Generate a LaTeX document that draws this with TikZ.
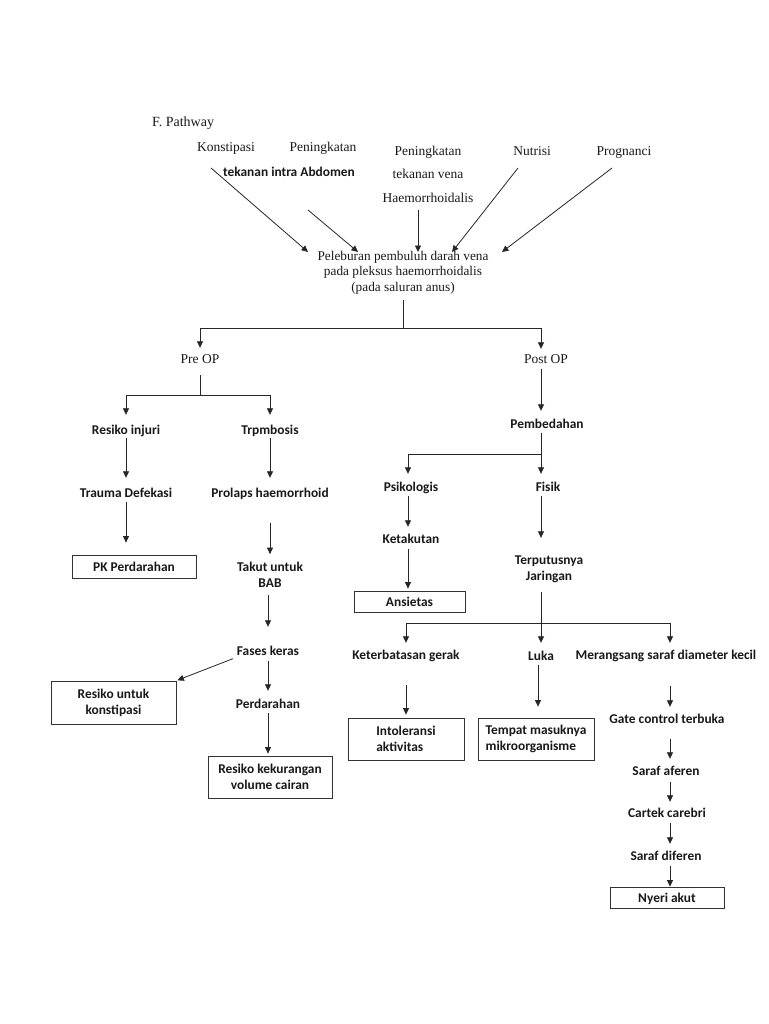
\documentclass[tikz,border=0pt]{standalone}
\usepackage{fontspec}
\setmainfont{Liberation Serif}
\newfontfamily\cbr{Carlito}
\usetikzlibrary{arrows.meta}
\begin{document}
\begin{tikzpicture}[x=1pt,y=-1pt]
\tikzset{
 sr/.style={font=\fontsize{13.5}{15.5}\selectfont, inner sep=0pt, text height=10.5pt, text depth=1.5pt, align=center, text=black!90},
 srm/.style={font=\fontsize{13.3}{15.5}\selectfont, inner sep=0pt, align=center, text=black!90},
 cb/.style={font=\cbr\bfseries\fontsize{13.4}{16}\selectfont, inner sep=0pt, text height=10.5pt, text depth=1.5pt, align=center, text=black!90},
 cbm/.style={font=\cbr\bfseries\fontsize{13.4}{16}\selectfont, inner sep=0pt, align=center, text=black!90},
 bx/.style={cb, draw=black!80, line width=0.8pt},
 bxm/.style={cbm, draw=black!80, line width=0.8pt},
 arr/.style={draw=black!85, line width=0.8pt, -{Triangle[length=6.5pt,width=6pt]}},
 ln/.style={draw=black!85, line width=0.8pt},
}
\useasboundingbox[fill=white] (0,0) rectangle (768,1024);

% top part
\node[sr, anchor=west, font=\fontsize{14}{16}\selectfont] (title) at (152,122) {F. Pathway};
\node[sr] (konst) at (226,147) {Konstipasi};
\node[sr] (pen1) at (323,147) {Peningkatan};
\node[cb] (tia) at (289,172) {tekanan intra Abdomen};
\node[sr] (pen2) at (428,151) {Peningkatan};
\node[sr] (tv) at (428,174) {tekanan vena};
\node[sr] (haem) at (428,198) {Haemorrhoidalis};
\node[sr] (nutr) at (532,151) {Nutrisi};
\node[sr] (prog) at (624,151) {Prognanci};
\node[srm] (main) at (403,272.5) {Peleburan pembuluh darah vena\\pada pleksus haemorrhoidalis\\(pada saluran anus)};

\coordinate (s1) at (211,168); \coordinate (t1) at (308,252);
\coordinate (s2) at (308,210); \coordinate (t2) at (358,252);
\coordinate (s3) at (418,210); \coordinate (t3) at (418,252);
\coordinate (s4) at (518,168); \coordinate (t4) at (452,252);
\coordinate (s5) at (612,168); \coordinate (t5) at (502,252);
\foreach \i in {1,...,5} { \draw[arr] (s\i) -- (t\i); }

% columns and junctions
\coordinate (j1) at (403,328);
\coordinate (j1L) at (200,328);
\coordinate (j1R) at (541,328);
\coordinate (j2) at (200,395);
\coordinate (j2L) at (126,395);
\coordinate (j2R) at (270,395);
\coordinate (j3) at (541,454);
\coordinate (j3L) at (408,454);
\coordinate (j4) at (541,623);
\coordinate (j4L) at (406,623);
\coordinate (j4R) at (670,623);
\coordinate (cR) at (541,0);
\coordinate (cP) at (408,0);
\coordinate (cL) at (538,0);
\coordinate (cM) at (670,0);
\coordinate (cB) at (126,0);

% left branch
\node[sr] (preop) at (200,359) {Pre OP};
\node[cb] (resiko) at (126,430) {Resiko injuri};
\node[cb] (trp) at (270,430) {Trpmbosis};
\node[cb] (trauma) at (126,493) {Trauma Defekasi};
\node[cb] (prolaps) at (270,493) {Prolaps haemorrhoid};
\node[bx, minimum width=124pt, minimum height=23pt] (pk) at (134,566.5) {PK Perdarahan};
\node[cbm] (takut) at (270,575) {Takut untuk\\BAB};
\node[cb] (fases) at (268,651) {Fases keras};
\node[bxm, minimum width=125pt, minimum height=43pt] (rk) at (113.5,702.5) {Resiko untuk\\konstipasi};
\node[cb] (perd) at (268,704) {Perdarahan};
\node[bxm, minimum width=124pt, minimum height=42pt] (rkv) at (270,777) {Resiko kekurangan\\volume cairan};

% right branch
\node[sr] (postop) at (546,359) {Post OP};
\node[cb] (pemb) at (547,424) {Pembedahan};
\node[cb] (psik) at (411,487) {Psikologis};
\node[cb] (fisik) at (548,487) {Fisik};
\node[cb] (ketak) at (411,539) {Ketakutan};
\node[bx, minimum width=111pt, minimum height=21pt] (ans) at (409.5,601.5) {Ansietas};
\node[cbm] (terp) at (549,569.5) {Terputusnya\\Jaringan};
\node[cb] (keter) at (406,655) {Keterbatasan gerak};
\node[cb] (luka) at (541,656) {Luka};
\node[cb] (mer) at (666,655) {Merangsang saraf diameter kecil};
\node[bxm, align=left, minimum width=116pt, minimum height=42pt] (into) at (406,739) {Intoleransi\\aktivitas};
\node[bxm, align=left, minimum width=116pt, minimum height=42pt] (tempat) at (536,739) {Tempat masuknya\\mikroorganisme};
\node[cb] (gate) at (667,719) {Gate control terbuka};
\node[cb] (aferen) at (666,771) {Saraf aferen};
\node[cb] (cartek) at (667,813) {Cartek carebri};
\node[cb] (diferen) at (666,856) {Saraf diferen};
\node[bx, minimum width=114pt, minimum height=21pt] (nyeri) at (667,897.5) {Nyeri akut};

% connectors top split
\draw[ln, shorten <=6pt] (main.south) -- (j1);
\draw[ln] (j1L) -- (j1R);
\draw[arr, shorten >=5pt] (j1L) -- (preop.north);
\draw[arr, shorten >=4pt] (j1R) -- (postop.north -| j1R);

% left connectors
\draw[ln, shorten <=10pt] (preop.south) -- (j2);
\draw[ln] (j2L) -- (j2R);
\draw[arr, shorten >=9pt] (j2L) -- (resiko.north);
\draw[arr, shorten >=9pt] (j2R) -- (trp.north);
\draw[arr, shorten <=2pt, shorten >=9pt] (resiko.south) -- (trauma.north);
\draw[arr, shorten <=2pt, shorten >=9pt] (trp.south) -- (prolaps.north);
\draw[arr, shorten <=3pt, shorten >=12pt] (trauma.south) -- (pk.north -| cB);
\draw[arr, shorten <=24pt, shorten >=8pt] (prolaps.south) -- (takut.north);
\draw[arr, shorten <=7pt, shorten >=18pt] (takut.south -| fases.north) -- (fases.north);
\draw[arr, shorten <=4pt, shorten >=1pt] (fases.south west) -- (rk.north east);
\draw[arr, shorten <=4pt, shorten >=7pt] (fases.south) -- (perd.north);
\draw[arr, shorten <=3pt, shorten >=2pt] (perd.south) -- (rkv.north -| perd.south);

% right connectors
\draw[arr, shorten <=4pt, shorten >=7pt] (postop.south -| cR) -- (pemb.north -| cR);
\draw[ln, shorten <=3pt] (pemb.south -| cR) -- (j3);
\draw[ln] (j3L) -- (j3);
\draw[arr, shorten >=7pt] (j3L) -- (psik.north -| j3L);
\draw[arr, shorten >=7pt] (j3) -- (fisik.north -| j3);
\draw[arr, shorten <=3pt, shorten >=6pt] (psik.south -| cP) -- (ketak.north -| cP);
\draw[arr, shorten <=4pt, shorten >=2pt] (ketak.south -| cP) -- (ans.north -| cP);
\draw[arr, shorten <=3pt, shorten >=18pt] (fisik.south -| cR) -- (terp.north -| cR);
\draw[arr, shorten <=9pt, shorten >=7pt] (terp.south -| cR) -- (luka.north -| cR);
\draw[ln] (j4L) -- (j4R);
\draw[arr, shorten >=6pt] (j4L) -- (keter.north -| j4L);
\draw[arr, shorten >=6pt] (j4R) -- (mer.north -| j4R);
\draw[arr, shorten <=24pt, shorten >=3pt] (keter.south) -- (into.north);
\draw[arr, shorten <=3pt, shorten >=11pt] (luka.south -| cL) -- (tempat.north -| cL);
\draw[arr, shorten <=25pt, shorten >=6pt] (mer.south -| cM) -- (gate.north -| cM);
\draw[arr, shorten <=14pt, shorten >=6pt] (gate.south -| cM) -- (aferen.north -| cM);
\draw[arr, shorten <=5pt, shorten >=5pt] (aferen.south -| cM) -- (cartek.north -| cM);
\draw[arr, shorten <=4pt, shorten >=6pt] (cartek.south -| cM) -- (diferen.north -| cM);
\draw[arr, shorten <=4pt] (diferen.south -| cM) -- (nyeri.north -| cM);
\end{tikzpicture}
\end{document}
